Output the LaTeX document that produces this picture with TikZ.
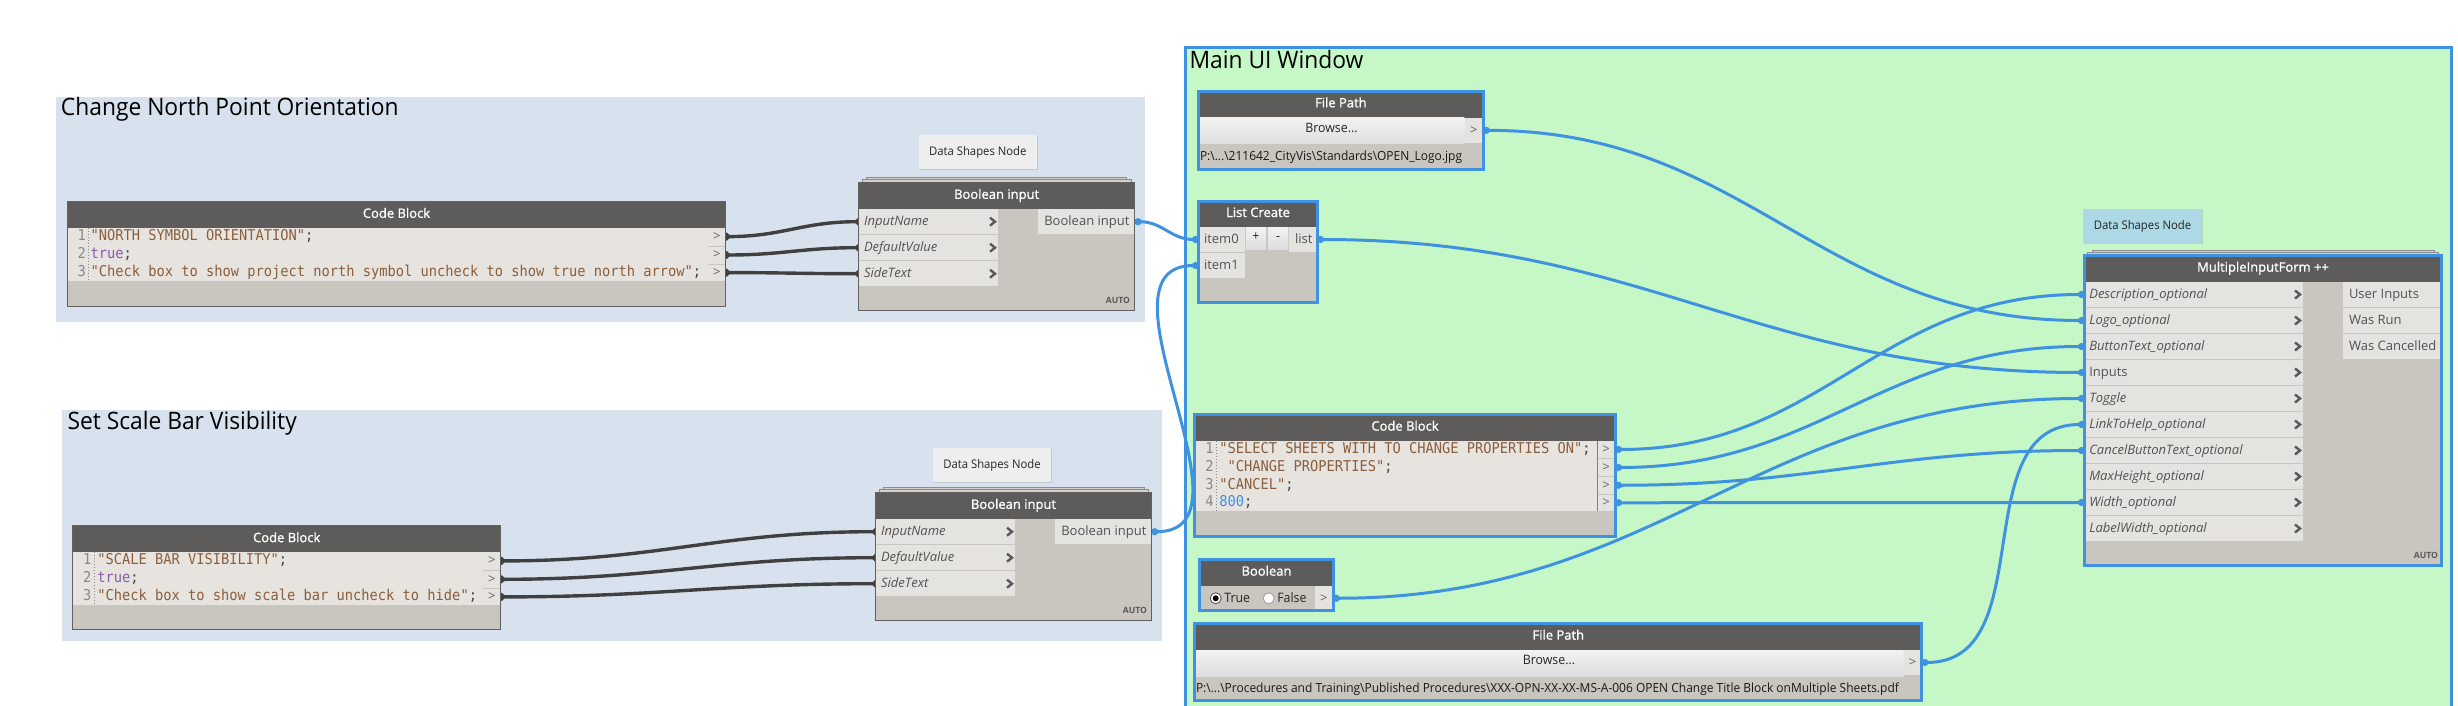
\documentclass[tikz,border=0pt]{standalone}
\usepackage{fontspec}
\usetikzlibrary{arrows.meta,calc,shadows}
\setmainfont{Open Sans}
\newfontfamily\codef[FakeStretch=0.92]{DejaVu Sans Mono}
\newfontfamily\uif[FakeStretch=0.95]{Open Sans}
\newfontfamily\hdf[FakeBold=1.2]{Open Sans}
\definecolor{headc}{HTML}{5E5C5A}
\definecolor{bodyc}{HTML}{C9C5BF}
\definecolor{rowc}{HTML}{E4E3DF}
\definecolor{codec}{HTML}{E7E4E0}
\definecolor{grpc}{HTML}{D7E2EE}
\definecolor{greenc}{HTML}{C6F7C6}
\definecolor{sel}{HTML}{3F92E0}
\definecolor{wiredark}{HTML}{404040}
\definecolor{strc}{HTML}{8B5E3C}
\definecolor{truec}{HTML}{8A5AB0}
\definecolor{numc}{HTML}{3F8EE6}
\definecolor{punc}{HTML}{444444}
\definecolor{gutc}{HTML}{888888}
\definecolor{notec}{HTML}{EEEEEE}
\definecolor{noteb}{HTML}{ADD8E6}
\pgfdeclarelayer{back}
\pgfdeclarelayer{wires}
\pgfsetlayers{back,wires,main}
\tikzset{
  hdtext/.style={text=white,font=\hdf\fontsize{6.5}{8}\selectfont,text height=4.9pt,text depth=1.4pt},
  rowtext/.style={text=black!68,font=\fontsize{6.5}{8}\selectfont,text height=4.9pt,text depth=1.4pt},
  codetext/.style={font=\codef\fontsize{7.45}{9}\selectfont,text height=5.4pt,text depth=1.4pt},
  gutext/.style={codetext,text=gutc},
  titletext/.style={text=black,font=\uif\fontsize{12}{14}\selectfont},
  uitext/.style={text=black!85,font=\uif\fontsize{6.5}{8}\selectfont,text height=4.9pt,text depth=1.4pt},
  notetext/.style={text=black!85,font=\uif\fontsize{5.95}{8}\selectfont,text height=4.9pt,text depth=1.4pt},
  pathtext/.style={text=black!90,font=\uif\fontsize{6.3}{8}\selectfont,text height=4.9pt,text depth=1.4pt},
  autotext/.style={text=black!65,font=\bfseries\fontsize{4.3}{5}\selectfont},
  porttext/.style={text=black!60,font=\fontsize{6.5}{8}\selectfont},
  groupbox/.style={fill=grpc},
  mainbox/.style={fill=greenc},
  bodybox/.style={fill=bodyc},
  headbox/.style={fill=headc},
  rowbox/.style={fill=rowc},
  codebox/.style={fill=codec},
  portbox/.style={fill=rowc},
  stackbox/.style={fill=bodyc!80!white,draw=black!45,line width=0.4pt},
  darkframe/.style={draw=black!62,line width=0.5pt},
  selframe/.style={draw=sel,line width=1.5pt},
  browsebox/.style={top color=black!5,bottom color=black!13},
  notebox/.style={fill=notec,drop shadow={shadow xshift=0.5pt,shadow yshift=-0.5pt,opacity=0.2,fill=black!60}},
  noteboxsel/.style={fill=noteb,drop shadow={shadow xshift=0.5pt,shadow yshift=-0.5pt,opacity=0.2,fill=black!60}},
  wirebase/.style={line width=1.5pt,{Circle[length=3.5pt,width=3.5pt]}-{Circle[length=3.5pt,width=3.5pt]}},
  bluewire/.style={wirebase,color=sel},
  darkwire/.style={wirebase,color=wiredark,line width=1.7pt,shorten <=-1.4pt,shorten >=-1.4pt},
  chev/.style={draw=black!65,line width=1.2pt},
}
\newcommand{\bx}[6]{%
  \pgfmathsetmacro\bxw{((#4)-(#2))*0.5}%
  \pgfmathsetmacro\bxh{((#5)-(#3))*0.5}%
  \node[rectangle,anchor=north west,inner sep=0pt,outer sep=0pt,minimum width=\bxw pt,minimum height=\bxh pt,#6] (#1) at ({#2},{#3}) {};}
\newcommand{\tx}[6]{\node[anchor=#5,inner sep=0pt,outer sep=0pt,#2] (#1) at ({#3},{#4}) {#6};}
% shell: name x1 y1 x2 y2 headbottom title
\newcommand{\shell}[7]{%
  \bx{#1}{#2}{#3}{#4}{#5}{bodybox}%
  \bx{#1H}{#2}{#3}{#4}{#6}{headbox}%
  \tx{#1T}{hdtext}{((#2)+(#4))/2}{((#3)+(#6))/2}{center}{#7}}
\newcommand{\frameD}[5]{\bx{#1F}{#2+0.5}{#3+0.5}{#4-0.5}{#5-0.5}{darkframe}}
\newcommand{\frameS}[5]{\bx{#1F}{#2+1.5}{#3+1.5}{#4-1.5}{#5-1.5}{selframe}}
% input row: name x1 y1 x2 textx text
\newcommand{\inrow}[6]{%
  \bx{#1}{#2}{#3}{#4}{#3+25}{rowbox}%
  \tx{#1T}{rowtext}{#5}{#3+12.5}{west}{#6}%
  \draw[chev] ({#4-8},{#3+8.5}) -- ({#4-3},{#3+12.5}) -- ({#4-8},{#3+16.5});}
% output row: name x1 y1 x2 textx text
\newcommand{\outrow}[6]{%
  \bx{#1}{#2}{#3}{#4}{#3+25}{rowbox}%
  \tx{#1T}{rowtext}{#5}{#3+12.5}{west}{#6}}
% code port: name x1 y1 x2 y2
\newcommand{\cport}[5]{%
  \bx{#1}{#2}{#3}{#4}{#5}{portbox}%
  \tx{#1T}{porttext}{((#2)+(#4))/2}{((#3)+(#5))/2}{center}{>}}
\newcommand{\wire}[3][bluewire]{%
  \draw[#1] let \p1=(#2),\p2=(#3),\n1={veclen(\x2-\x1,\y2-\y1)*0.42} in (\p1) .. controls +(\n1,0) and +(-\n1,0) .. (\p2);}
\newcommand{\cs}[1]{\textcolor{strc}{#1}}
\newcommand{\cp}[1]{\textcolor{punc}{#1}}
\begin{document}
\begin{tikzpicture}[x=0.5pt,y=-0.5pt]
\useasboundingbox (0,0) rectangle (2458,706);
\begin{pgfonlayer}{back}
\bx{grpA}{56}{97}{1145}{322}{groupbox}
\bx{grpB}{62}{410}{1162}{641}{groupbox}
\bx{grpM}{1185}{48}{2451.7}{706}{mainbox}
\draw[draw=sel,line width=1.5pt] (grpM.south west) -- (grpM.north west) -- (grpM.north east) -- (grpM.south east);
\end{pgfonlayer}
\tx{grpAT}{titletext}{61}{109}{west}{Change North Point Orientation}
\tx{grpBT}{titletext}{67.5}{423}{west}{Set Scale Bar Visibility}
\tx{grpMT}{titletext}{1189.6}{60}{west}{Main UI Window}

% ---------- Code Block 1
\shell{cbA}{66.6}{201}{726.4}{306.7}{227.7}{Code Block}
\bx{cbAC}{67}{227.7}{707.6}{280.7}{codebox}
\cport{cbAo}{707.6}{227.7}{726}{245.5}
\cport{cbAp}{707.6}{246.5}{726}{263.5}
\cport{cbAq}{707.6}{264.5}{726}{280.7}
\draw[gutc,densely dotted,line width=0.5pt] (88.7,227.7) -- (88.7,280.7);
\tx{cbAn1}{gutext}{86}{236}{east}{1}
\tx{cbAn2}{gutext}{86}{254.5}{east}{2}
\tx{cbAn3}{gutext}{86}{272.5}{east}{3}
\tx{cbAl1}{codetext}{90.5}{236}{west}{\cs{"NORTH SYMBOL ORIENTATION"}\cp{;}}
\tx{cbAl2}{codetext}{90.5}{254.5}{west}{\textcolor{truec}{true}\cp{;}}
\tx{cbAl3}{codetext}{90.5}{272.5}{west}{\cs{"Check box to show project north symbol uncheck to show true north arrow"}\cp{;}}
\frameD{cbA}{66.6}{201}{726.4}{306.7}

% ---------- Boolean input 1
\bx{noA}{919}{135}{1036.7}{169.3}{notebox}
\tx{noAT}{notetext}{977.8}{152}{center}{Data Shapes Node}
\bx{biAs2}{866}{177.3}{1126.7}{186}{stackbox}
\bx{biAs1}{862}{179.3}{1131}{186}{stackbox}
\shell{biA}{858.3}{182}{1135}{311.3}{208.7}{Boolean input}
\inrow{biAi}{859}{209.2}{998}{864}{\itshape InputName}
\inrow{biAd}{859}{235.2}{998}{864}{\itshape DefaultValue}
\inrow{biAs}{859}{261.2}{998}{864}{\itshape SideText}
\outrow{biAo}{1038}{209.2}{1134.5}{1044.3}{Boolean input}
\tx{biAa}{autotext}{1130}{300}{east}{AUTO}
\frameD{biA}{858.3}{182}{1135}{311.3}

% ---------- Code Block 2
\shell{cbB}{72}{525.3}{501.4}{630.3}{552}{Code Block}
\bx{cbBC}{72.5}{552}{482.6}{605}{codebox}
\cport{cbBo}{482.6}{552}{501}{569.8}
\cport{cbBp}{482.6}{570.8}{501}{587.8}
\cport{cbBq}{482.6}{588.8}{501}{605}
\draw[gutc,densely dotted,line width=0.5pt] (94.6,552) -- (94.6,605);
\tx{cbBn1}{gutext}{91.4}{560.3}{east}{1}
\tx{cbBn2}{gutext}{91.4}{578.5}{east}{2}
\tx{cbBn3}{gutext}{91.4}{596.7}{east}{3}
\tx{cbBl1}{codetext}{97.4}{560.3}{west}{\cs{"SCALE BAR VISIBILITY"}\cp{;}}
\tx{cbBl2}{codetext}{97.4}{578.5}{west}{\textcolor{truec}{true}\cp{;}}
\tx{cbBl3}{codetext}{97.4}{596.7}{west}{\cs{"Check box to show scale bar uncheck to hide"}\cp{;}}
\frameD{cbB}{72}{525.3}{501.4}{630.3}

% ---------- Boolean input 2
\bx{noB}{933}{448}{1051}{482}{notebox}
\tx{noBT}{notetext}{992}{465}{center}{Data Shapes Node}
\bx{biBs2}{883}{487.3}{1144}{496}{stackbox}
\bx{biBs1}{879}{489.3}{1148}{496}{stackbox}
\shell{biB}{875.3}{492}{1151.7}{621.3}{518.7}{Boolean input}
\inrow{biBi}{876}{519.2}{1015}{881}{\itshape InputName}
\inrow{biBd}{876}{545.2}{1015}{881}{\itshape DefaultValue}
\inrow{biBs}{876}{571.2}{1015}{881}{\itshape SideText}
\outrow{biBo}{1055}{519.2}{1151.2}{1061.3}{Boolean input}
\tx{biBa}{autotext}{1147}{610}{east}{AUTO}
\frameD{biB}{875.3}{492}{1151.7}{621.3}

% ---------- File Path 1
\shell{fpA}{1197}{90}{1484.7}{170.7}{117.7}{File Path}
\bx{fpAb}{1199}{117.7}{1464.4}{144}{browsebox}
\tx{fpAbT}{uitext}{1331.5}{128.7}{center}{Browse...}
\cport{fpAo}{1465}{117.7}{1482.7}{143}
\tx{fpAv}{pathtext}{1200}{156.7}{west}{P:\textbackslash...\textbackslash 211642\_CityVis\textbackslash Standards\textbackslash OPEN\_Logo.jpg}
\frameS{fpA}{1197}{90}{1484.7}{170.7}

% ---------- List Create
\shell{lc}{1197}{200}{1319}{304}{227}{List Create}
\outrow{lci}{1199}{227}{1245}{1204}{item0}
\outrow{lcj}{1199}{253}{1245}{1204}{item1}
\bx{lcp}{1246}{227}{1266}{249}{browsebox}
\tx{lcpT}{uitext}{1256}{237}{center}{+}
\bx{lcm}{1268}{227}{1288}{249}{browsebox}
\tx{lcmT}{uitext}{1278}{237}{center}{-}
\outrow{lco}{1289}{227}{1317}{1295}{list}
\frameS{lc}{1197}{200}{1319}{304}

% ---------- Code Block 3
\shell{cbC}{1193.3}{413.3}{1616.7}{538.3}{441}{Code Block}
\bx{cbCC}{1195}{441}{1596.7}{511}{codebox}
\cport{cbCo}{1597.2}{441}{1615}{458}
\cport{cbCp}{1597.2}{459}{1615}{476}
\cport{cbCq}{1597.2}{477}{1615}{493.5}
\cport{cbCr}{1597.2}{494.5}{1615}{511}
\draw[black!50,line width=0.3pt] (1596.9,441) -- (1596.9,511);
\draw[gutc,densely dotted,line width=0.5pt] (1216.5,441) -- (1216.5,511);
\tx{cbCn1}{gutext}{1213.5}{449.3}{east}{1}
\tx{cbCn2}{gutext}{1213.5}{467}{east}{2}
\tx{cbCn3}{gutext}{1213.5}{485}{east}{3}
\tx{cbCn4}{gutext}{1213.5}{502.3}{east}{4}
\tx{cbCl1}{codetext}{1219.3}{449.3}{west}{\cs{"SELECT SHEETS WITH TO CHANGE PROPERTIES ON"}\cp{;}}
\tx{cbCl2}{codetext}{1227.5}{467}{west}{\cs{"CHANGE PROPERTIES"}\cp{;}}
\tx{cbCl3}{codetext}{1219.3}{485}{west}{\cs{"CANCEL"}\cp{;}}
\tx{cbCl4}{codetext}{1219.3}{502.3}{west}{\textcolor{numc}{800}\cp{;}}
\frameS{cbC}{1193.3}{413.3}{1616.7}{538.3}

% ---------- Boolean
\shell{bo}{1198.3}{558.3}{1334.7}{612.3}{586}{Boolean}
\cport{boo}{1315}{586}{1332.7}{610.5}
\node[circle,fill=white,draw=black!70,line width=0.4pt,minimum size=5.5pt,inner sep=0pt] (boT) at (1215.7,598.3) {};
\node[circle,fill=black,minimum size=3pt,inner sep=0pt] (boTd) at (boT) {};
\node[circle,fill=white,draw=black!40,line width=0.4pt,minimum size=5.5pt,inner sep=0pt] (boF) at (1268.7,598.3) {};
\tx{boTt}{uitext}{1224.3}{598.8}{west}{True}
\tx{boFt}{uitext}{1277.3}{598.8}{west}{False}
\frameS{bo}{1198.3}{558.3}{1334.7}{612.3}

% ---------- File Path 2
\shell{fpB}{1193.3}{622.3}{1923.3}{702.3}{650}{File Path}
\bx{fpBb}{1195}{650}{1903.3}{676}{browsebox}
\tx{fpBbT}{uitext}{1549}{660.7}{center}{Browse...}
\cport{fpBo}{1904}{650}{1921.3}{675}
\tx{fpBv}{pathtext}{1196}{688.7}{west}{P:\textbackslash...\textbackslash Procedures and Training\textbackslash Published Procedures\textbackslash XXX-OPN-XX-XX-MS-A-006 OPEN Change Title Block onMultiple Sheets.pdf}
\frameS{fpB}{1193.3}{622.3}{1923.3}{702.3}

% ---------- MultipleInputForm ++
\bx{noC}{2083.3}{209.3}{2201.7}{243.3}{noteboxsel}
\tx{noCT}{notetext}{2142.5}{226}{center}{Data Shapes Node}
\bx{mfs2}{2092}{250.7}{2434}{260}{stackbox}
\bx{mfs1}{2087}{252.7}{2438}{260}{stackbox}
\shell{mf}{2082.7}{254.3}{2443.3}{567.3}{282}{MultipleInputForm ++}
\inrow{mfa}{2085}{282}{2303}{2089.3}{\itshape Description\_optional}
\inrow{mfb}{2085}{308}{2303}{2089.3}{\itshape Logo\_optional}
\inrow{mfc}{2085}{334}{2303}{2089.3}{\itshape ButtonText\_optional}
\inrow{mfd}{2085}{360}{2303}{2089.3}{Inputs}
\inrow{mfe}{2085}{386}{2303}{2089.3}{\itshape Toggle}
\inrow{mff}{2085}{412}{2303}{2089.3}{\itshape LinkToHelp\_optional}
\inrow{mfg}{2085}{438}{2303}{2089.3}{\itshape CancelButtonText\_optional}
\inrow{mfh}{2085}{464}{2303}{2089.3}{\itshape MaxHeight\_optional}
\inrow{mfi}{2085}{490}{2303}{2089.3}{\itshape Width\_optional}
\inrow{mfj}{2085}{516}{2303}{2089.3}{\itshape LabelWidth\_optional}
\outrow{mfo}{2343}{282}{2441.5}{2349}{User Inputs}
\outrow{mfp}{2343}{308}{2441.5}{2349}{Was Run}
\outrow{mfq}{2343}{334}{2441.5}{2349}{Was Cancelled}
\tx{mfauto}{autotext}{2438}{555}{east}{AUTO}
\frameS{mf}{2082.7}{254.3}{2443.3}{567.3}

% ---------- wires
\begin{pgfonlayer}{wires}
\wire[darkwire]{cbAo.east}{biAi.west}
\wire[darkwire]{cbAp.east}{biAd.west}
\wire[darkwire]{cbAq.east}{biAs.west}
\wire[darkwire]{cbBo.east}{biBi.west}
\wire[darkwire]{cbBp.east}{biBd.west}
\wire[darkwire]{cbBq.east}{biBs.west}
\wire{biAo.east}{lci.west}
\wire{biBo.east}{lcj.west}
\wire{fpAo.east}{mfb.west}
\wire{lco.east}{mfd.west}
\wire{cbCo.east}{mfa.west}
\wire{cbCp.east}{mfc.west}
\wire{cbCq.east}{mfg.west}
\wire{cbCr.east}{mfi.west}
\wire{boo.east}{mfe.west}
\wire{fpBo.east}{mff.west}
\end{pgfonlayer}
\end{tikzpicture}
\end{document}
